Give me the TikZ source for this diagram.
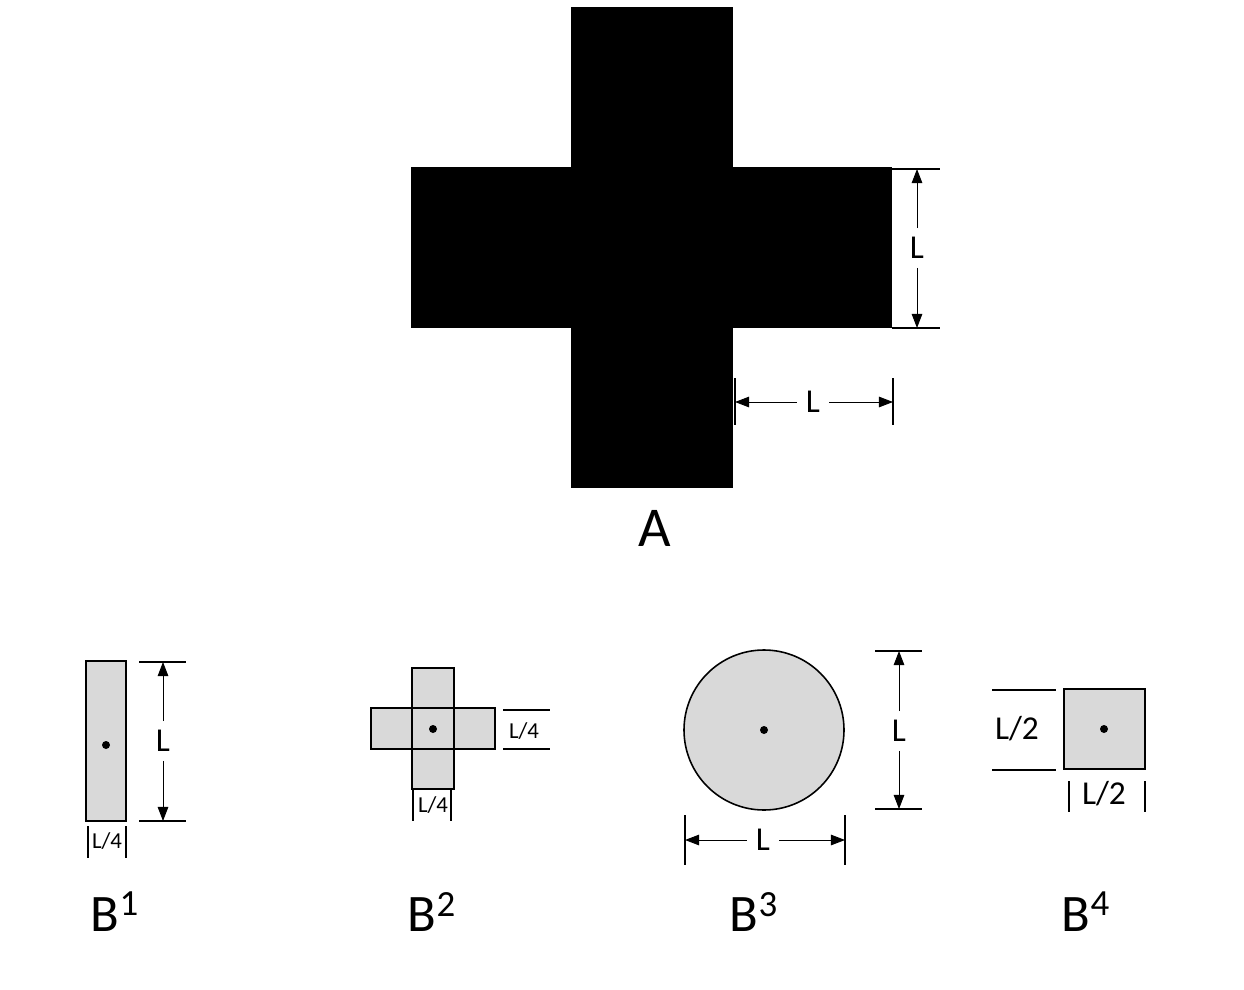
\documentclass[tikz,border=0pt]{standalone}
\usepackage{fontspec}
\setmainfont{Carlito}
\usetikzlibrary{arrows.meta}
\definecolor{lg}{gray}{0.85}
\begin{document}
\begin{tikzpicture}[x=0.02cm,y=-0.02cm,
 shape1/.style={draw=black,fill=lg,line width=0.9pt},
 tick/.style={line width=1.5pt},
 dimarr/.style={-{Triangle[length=8pt,width=6pt]},line width=0.5pt},
 big/.style={font=\fontsize{19}{20}\selectfont,inner sep=5pt},
 small/.style={font=\fontsize{13}{14}\selectfont,inner sep=2pt},
 lab/.style={font=\fontsize{30}{32}\selectfont}]
\useasboundingbox (0,0) rectangle (1244,990);
% A
\fill (571,7) rectangle (733,488);
\fill (411,167) rectangle (892,328);
\draw[tick] (892,169) -- (940,169);
\draw[tick] (892,328) -- (940,328);
\coordinate (at) at (917,169); \coordinate (ab) at (917,328);
\node[big] (aL1) at (917,248) {L};
\draw[dimarr] (aL1) -- (at); \draw[dimarr] (aL1) -- (ab);
\draw[tick] (735,378) -- (735,425);
\draw[tick] (893,378) -- (893,425);
\coordinate (al) at (735,402); \coordinate (ar) at (893,402);
\node[big] (aL2) at (813,402) {L};
\draw[dimarr] (aL2) -- (al); \draw[dimarr] (aL2) -- (ar);
\node[font=\fontsize{32}{34}\selectfont] (A) at (655,528) {A};
% B1
\draw[shape1] (86,661) rectangle (126,821);
\fill (106,745) circle (4);
\draw[tick] (139,662) -- (186,662);
\draw[tick] (139,821) -- (186,821);
\coordinate (b1t) at (163,662); \coordinate (b1b) at (163,821);
\node[big] (b1L) at (163,741) {L};
\draw[dimarr] (b1L) -- (b1t); \draw[dimarr] (b1L) -- (b1b);
\draw[tick] (88,826) -- (88,858);
\draw[tick] (126,826) -- (126,858);
\node[small] (b1w) at (107,841) {L/4};
\node[lab] (B1) at (115,912) {B\textsuperscript{1}};
% B2
\draw[shape1] (412,668) rectangle (454,708);
\draw[shape1] (412,749) rectangle (454,789);
\draw[shape1] (371,708) rectangle (412,749);
\draw[shape1] (454,708) rectangle (495,749);
\draw[shape1] (412,708) rectangle (454,749);
\fill (433,729) circle (4);
\draw[tick] (503,710) -- (550,710);
\draw[tick] (503,749) -- (550,749);
\node[small] (b2r) at (524,731) {L/4};
\draw[tick] (413,789) -- (413,821);
\draw[tick] (451,789) -- (451,821);
\node[small] (b2b) at (433,805) {L/4};
\node[lab] (B2) at (432,912) {B\textsuperscript{2}};
% B3
\draw[shape1] (764,730) circle (80);
\fill (764,730) circle (4);
\draw[tick] (875,651) -- (922,651);
\draw[tick] (875,809) -- (922,809);
\coordinate (b3t) at (899,651); \coordinate (b3b) at (899,809);
\node[big] (b3L) at (899,731) {L};
\draw[dimarr] (b3L) -- (b3t); \draw[dimarr] (b3L) -- (b3b);
\draw[tick] (685,815) -- (685,865);
\draw[tick] (845,815) -- (845,865);
\coordinate (b3l) at (685,840); \coordinate (b3r) at (845,840);
\node[big] (b3W) at (763,840) {L};
\draw[dimarr] (b3W) -- (b3l); \draw[dimarr] (b3W) -- (b3r);
\node[lab] (B3) at (754,912) {B\textsuperscript{3}};
% B4
\draw[shape1] (1064,689) rectangle (1145,769);
\fill (1104,729) circle (4);
\draw[tick] (992,690) -- (1056,690);
\draw[tick] (992,770) -- (1056,770);
\node[big] (b4l) at (1017,729) {L/2};
\draw[tick] (1069,781) -- (1069,812);
\draw[tick] (1145,781) -- (1145,812);
\node[big] (b4b) at (1104,794) {L/2};
\node[lab] (B4) at (1086,912) {B\textsuperscript{4}};
\end{tikzpicture}
\end{document}
